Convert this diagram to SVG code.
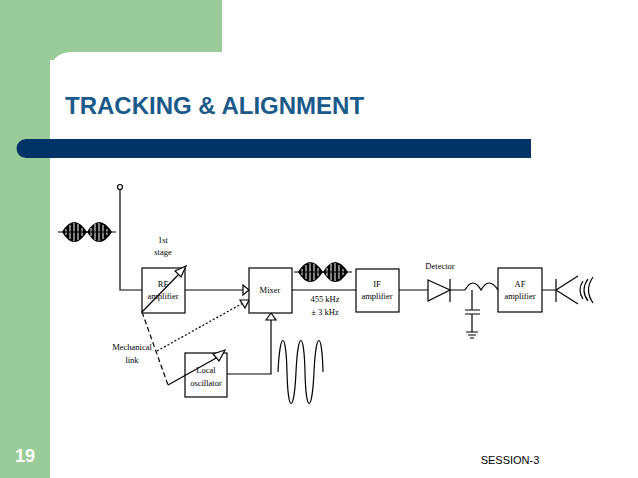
<svg xmlns="http://www.w3.org/2000/svg" width="638" height="478" viewBox="0 0 638 478">
<style>
.b{fill:#fff;stroke:#000;stroke-width:1.2}
.l{fill:none;stroke:#000;stroke-width:1.2}
.t{font-family:"Liberation Serif",serif;font-size:8.5px;text-anchor:middle;fill:#000}
.ah{fill:#fff;stroke:#000;stroke-width:1.2}
</style>
<rect width="638" height="478" fill="#fff"/>
<rect x="0" y="0" width="222" height="60" fill="#99cc99"/>
<rect x="0" y="0" width="50" height="478" fill="#99cc99"/>
<path d="M50 478 V75 Q50 52 73 52 H222 V0 H638 V478 Z" fill="#fff"/>
<text x="65" y="114" font-family="Liberation Sans,Arial,sans-serif" font-weight="bold" font-size="24" fill="#1a5a8a">TRACKING &amp; ALIGNMENT</text>
<path d="M26 139 H531 V158 H26 A9.5 9.5 0 0 1 26 139 Z" fill="#003366"/>
<text x="25" y="462" font-family="Liberation Sans,Arial,sans-serif" font-weight="bold" font-size="18" fill="#fff" text-anchor="middle">19</text>
<text x="510" y="464" font-family="Liberation Sans,Arial,sans-serif" font-size="11" fill="#000" text-anchor="middle">SESSION-3</text>
<defs>
<g id="env"><path d="M0 0 Q12 -20 25 0 Q37 -20 50 0 Q37 20 25 0 Q12 20 0 0 Z" fill="#000"/>
<path d="M4 -3 V3 M8 -7 V7 M12 -9 V9 M16 -8 V8 M20 -4 V4 M29 -4 V4 M33 -8 V8 M37 -9 V9 M41 -7 V7 M45 -3 V3" stroke="#fff" stroke-width="1"/>
<line x1="-4" y1="0" x2="54" y2="0" stroke="#000"/></g>
</defs>
<g id="connectors">
<circle cx="120" cy="187" r="2.5" class="l"/>
<path class="l" d="M120 190 V290 H142"/>
<path class="l" d="M185 290 H243"/>
<path class="ah" d="M243 285 L249 290 L243 295 Z"/>
<path class="l" stroke-dasharray="2,2" d="M157 351 L243 303"/>
<path class="ah" d="M240 300 L249 300 L245 308 Z"/>
<path class="l" stroke-dasharray="5,3" d="M142 312 L168 385"/>
<path class="l" d="M227 374 H271 V320"/>
<path class="ah" d="M266 320 L271 313 L276 320 Z"/>
<path class="l" d="M292 290 H356 M399 290 H428 M450 290 H465 M542 290 H556"/>
<path class="l" d="M278 372 C280 330 286 330 287 372 C288 414 294 414 296 372 C298 330 304 330 305 372 C306 414 312 414 314 372 C316 330 322 330 323 372"/>
<path class="l" d="M428 280 L450 290 L428 301 Z M450 279 V302"/>
<path class="l" d="M465 290 Q473 276 481 290 Q489 276 498 290"/>
<path class="l" d="M472 290 V310 M465 310 H480 M465 314 H480 M472 314 V332 M466 332 H478 M468 335 H476 M470 338 H474"/>
<path class="l" d="M556 279 V302 M556 290 L578 276 M556 290 L578 304"/>
<path class="l" d="M583 281 Q577 290 583 299 M588 279 Q580 290 588 301 M593 277 Q584 290 593 303"/>
</g>
<use href="#env" x="62" y="232"/>
<use href="#env" x="298" y="272"/>
<g id="rf"><rect class="b" x="142" y="268" width="43" height="45"/><text class="t" x="163" y="287">RF</text><text class="t" x="163" y="299">amplifier</text></g>
<g id="stage"><text class="t" x="163" y="243">1st</text><text class="t" x="163" y="255">stage</text></g>
<g id="mixer"><rect class="b" x="249" y="268" width="43" height="45"/><text class="t" x="270" y="293">Mixer</text></g>
<g id="lo"><rect class="b" x="185" y="353" width="42" height="44"/><text class="t" x="206" y="373">Local</text><text class="t" x="206" y="386">oscillator</text></g>
<g id="if"><rect class="b" x="356" y="269" width="43" height="43"/><text class="t" x="377" y="287">IF</text><text class="t" x="377" y="299">amplifier</text></g>
<g id="af"><rect class="b" x="498" y="268" width="44" height="44"/><text class="t" x="520" y="287">AF</text><text class="t" x="520" y="299">amplifier</text></g>
<g id="tuning">
<path class="l" d="M142 312 L181 272"/>
<path class="ah" d="M175 271 L186 266 L181 277 Z"/>
<path class="l" d="M168 385 L218 357"/>
<path class="ah" d="M213 354 L225 350 L219 361 Z"/>
</g>
<g id="labels"><text class="t" x="440" y="269">Detector</text><text class="t" x="325" y="302">455 kHz</text><text class="t" x="325" y="315">± 3 kHz</text><text class="t" x="132" y="350">Mechanical</text><text class="t" x="132" y="363">link</text></g>
</svg>
